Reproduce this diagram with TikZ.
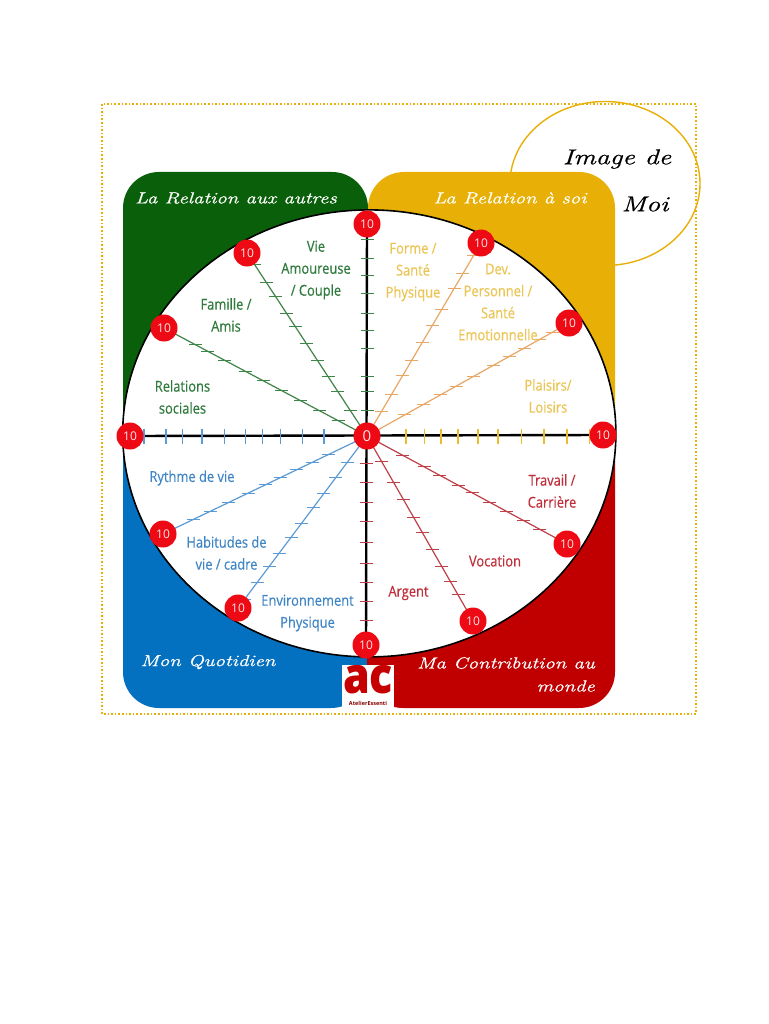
\documentclass[tikz,border=0pt]{standalone}
\usepackage{fontspec}
\setmainfont[FakeStretch=0.86,FakeBold=0.4]{Open Sans}
\newfontfamily\numfont{Open Sans}
\newfontfamily\logofont[FakeStretch=0.86]{Open Sans Extrabold}
\newfontfamily\handfont[FakeStretch=1.3,FakeBold=0.8]{Latin Modern Roman}
\usetikzlibrary{calc}
\definecolor{gr}{HTML}{0A5F0A}
\definecolor{go}{HTML}{E8B007}
\definecolor{bl}{HTML}{0470C0}
\definecolor{re}{HTML}{C00000}
\definecolor{grL}{HTML}{3F8548}
\definecolor{goL}{HTML}{E9A765}
\definecolor{blL}{HTML}{5B9BD5}
\definecolor{reL}{HTML}{BF4048}
\definecolor{grT}{HTML}{2F7A3C}
\definecolor{goT}{HTML}{EBC553}
\definecolor{blT}{HTML}{3F86C6}
\definecolor{reT}{HTML}{C0303C}
\definecolor{badge}{HTML}{EE0A14}
\tikzset{
  badgenode/.style={circle,fill=badge,draw=none,minimum size=27,inner sep=0,text=white!90!red,font=\numfont\fontsize{12}{12}\selectfont},
  spoke/.style={line width=1.2pt,draw=#1},
  axisline/.style={line width=2.4pt,draw=black},
  labeltext/.style={align=center,text=#1,font=\fontsize{15}{22}\selectfont,inner sep=0},
  headtext/.style={text=white,align=center,inner sep=0,font=\handfont\itshape\fontsize{16}{23}\selectfont},
  imagetext/.style={text=black,inner sep=0,font=\handfont\itshape\fontsize{21.5}{21.5}\selectfont},
  frameline/.style={draw=go,line width=1.6pt,dotted},
}
\begin{document}
\begin{tikzpicture}[x=1pt,y=-1pt]
\useasboundingbox (0,0) rectangle (768,1024);
\fill[white] (0,0) rectangle (768,1024);
\draw[frameline] (102,104) rectangle (696,714);
\draw[go,line width=1.4pt] (605,183.5) ellipse [x radius=95,y radius=82];
% panels
\fill[gr] (123,434) [rounded corners=36] -- (123,172) -- (368,172) [sharp corners] -- (368,434) -- cycle;
\fill[go] (368,434) [rounded corners=36] -- (368,172) -- (615,172) [sharp corners] -- (615,434) -- cycle;
\fill[bl] (123,434) [rounded corners=36] -- (123,708) -- (367,708) [sharp corners] -- (367,434) -- cycle;
\fill[re] (367,434) [rounded corners=36] -- (367,708) -- (615,708) [sharp corners] -- (615,434) -- cycle;
% wheel
\fill[white,draw=black,line width=1.6pt] (369.3,433.4) ellipse [x radius=246.6,y radius=223.5];
% named nodes
\coordinate (c) at (367,436);
\path (367,224) coordinate (eN);
\path (247,253) coordinate (eG1);
\path (164,328) coordinate (eG2);
\path (130,436) coordinate (eW);
\path (163,534) coordinate (eB1);
\path (238,608) coordinate (eB2);
\path (366,645) coordinate (eS);
\path (473,621) coordinate (eR1);
\path (567,544) coordinate (eR2);
\path (603,435) coordinate (eE);
\path (569,323) coordinate (eO2);
\path (481,243) coordinate (eO1);
% spokes and horizontal ticks
\foreach \e/\col/\ts in {
 eG1/grL/{.938,.84,.765,.672,.597,.507,.411,.324,.244,.14},
 eG2/grL/{.844,.786,.70,.60,.511,.422,.326,.232,.142},
 eO1/goL/{.9375,.84,.764,.655,.575,.483,.392,.312,.217,.127},
 eO2/goL/{.918,.855,.778,.704,.627,.529,.442,.365,.278,.187},
 eB1/blL/{.852,.767,.679,.582,.497,.423,.344,.266,.189},
 eB2/blL/{.95,.849,.758,.681,.588,.507,.418,.337,.242,.153},
 eR1/reL/{.959,.859,.787,.706,.616,.523,.44,.342,.25,.14},
 eR2/reL/{.863,.783,.697,.613,.525,.455,.363,.285,.177}}{
  \draw[spoke=\col] (c) -- (\e);
  \foreach \t in \ts {
    \draw[\col,line width=1pt] ($(c)!\t!(\e)+(-6.5,0)$) -- ++(13,0);
  }
}
% axes
\draw[axisline] (eW) -- (eE);
\draw[axisline] (eN) -- (eS);
% axis ticks
\foreach \y in {239.3,258,275.7,293,313,330.7,348,376.7,391.3,410.3}
  \draw[grL,line width=1pt] (360.5,\y) -- (373.5,\y);
\foreach \y in {463,482.7,502,521.3,542.3,563.3,582,601.3,620.7,633}
  \draw[reL,line width=1pt] (360,\y) -- (373,\y);
\foreach \x in {144,166,182.7,202,224.7,245.3,262.3,280.7,302.7,324}
  \draw[blL,line width=1.1pt] (\x,429) -- (\x,444);
\foreach \x in {406,424.7,441,458,478,498,521.7,544,567,589.3}
  \draw[go!85!white,line width=1.1pt] (\x,429) -- (\x,444);
% logo
\fill[white] (342,665) rectangle (394,708);
\node[text=re!90!red,inner sep=0,font=\logofont\fontsize{50}{50}\selectfont] (logo) at (368,679.5) {ac};
\node[text=re!70!black,inner sep=0,font=\numfont\bfseries\fontsize{5.5}{5.5}\selectfont] (logot) at (368,703) {AtelierEssenti};
% badges
\node[badgenode] (bN) at (eN) {10};
\node[badgenode] (bG1) at (eG1) {10};
\node[badgenode] (bG2) at (eG2) {10};
\node[badgenode] (bW) at (eW) {10};
\node[badgenode] (bB1) at (eB1) {10};
\node[badgenode] (bB2) at (eB2) {10};
\node[badgenode] (bS) at (eS) {10};
\node[badgenode] (bR1) at (eR1) {10};
\node[badgenode] (bR2) at (eR2) {10};
\node[badgenode] (bE) at (eE) {10};
\node[badgenode] (bO2) at (eO2) {10};
\node[badgenode] (bO1) at (eO1) {10};
\node[badgenode,font=\numfont\fontsize{15}{15}\selectfont] (bC) at (c) {0};
% labels
\node[labeltext=grT] (lVie) at (316,270) {Vie\\Amoureuse\\/ Couple};
\node[labeltext=grT] (lFam) at (226,315) {Famille /\\Amis};
\node[labeltext=grT] (lRel) at (182.5,397) {Relations\\sociales};
\node[labeltext=goT] (lFor) at (413,272) {Forme /\\Santé\\Physique};
\node[labeltext=goT] (lDev) at (498,302) {Dev.\\Personnel /\\Santé\\Emotionnelle};
\node[labeltext=goT] (lPla) at (548,396) {Plaisirs/\\Loisirs};
\node[labeltext=blT] (lRyt) at (192,478) {Rythme de vie};
\node[labeltext=blT] (lHab) at (226.5,553) {Habitudes de\\vie / cadre};
\node[labeltext=blT] (lEnv) at (307.5,613) {Environnement\\Physique};
\node[labeltext=reT] (lTra) at (552,491) {Travail /\\Carrière};
\node[labeltext=reT] (lVoc) at (495,561) {Vocation};
\node[labeltext=reT] (lArg) at (408.5,593) {Argent};
% headings
\node[headtext] (hA) at (236,198) {La Relation aux autres};
\node[headtext] (hS) at (510,198) {La Relation à soi};
\node[headtext] (hQ) at (208,662) {Mon Quotidien};
\node[headtext,align=right,anchor=north east] (hC) at (595,657) {Ma Contribution au\\monde};
\node[imagetext] (iA) at (617,159) {Image de};
\node[imagetext] (iB) at (645,204) {Moi};
\end{tikzpicture}
\end{document}
